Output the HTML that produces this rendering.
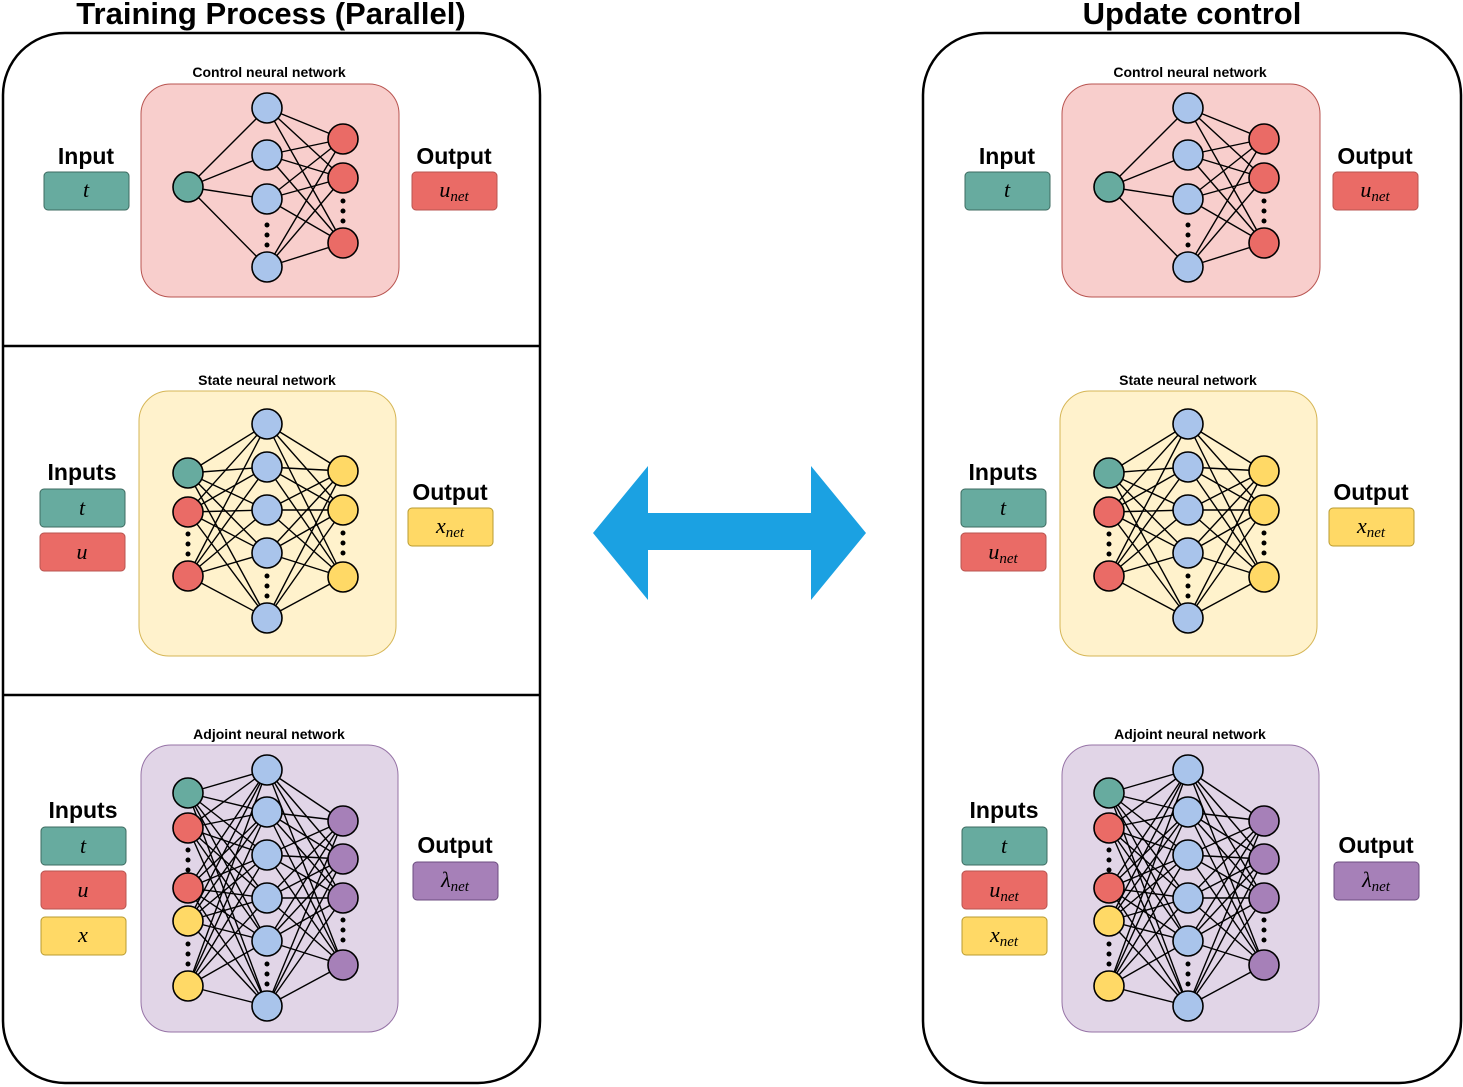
<!DOCTYPE html>
<html><head><meta charset="utf-8"><style>
html,body{margin:0;padding:0;background:#fff;}
svg{display:block;}
.t{font-family:"Liberation Sans",sans-serif;font-weight:bold;fill:#000;text-anchor:middle;}
.m{font-family:"Liberation Serif",serif;font-style:italic;fill:#000;text-anchor:middle;}
</style></head><body>
<svg id="s" width="1463" height="1087" viewBox="0 0 1463 1087" xmlns="http://www.w3.org/2000/svg">
<rect x="3" y="33" width="537" height="1050" rx="62" fill="none" stroke="#000" stroke-width="2.5"/>
<line x1="3" y1="346" x2="540" y2="346" stroke="#000" stroke-width="2.5"/>
<line x1="3" y1="695" x2="540" y2="695" stroke="#000" stroke-width="2.5"/>
<rect x="923" y="33" width="538" height="1050" rx="62" fill="none" stroke="#000" stroke-width="2.5"/>
<text class="t" x="271" y="24" font-size="31">Training Process (Parallel)</text>
<text class="t" x="1192" y="24" font-size="31">Update control</text>
<polygon points="593,533 648,466 648,513 811,513 811,466 866,533 811,600 811,550 648,550 648,600" fill="#1ba1e2"/>
<g id="g"></g>
<g id="labels"></g>
</svg>
<script>
const NS="http://www.w3.org/2000/svg";
const G=document.getElementById('g');
function el(n,a,p){const e=document.createElementNS(NS,n);for(const k in a)e.setAttribute(k,a[k]);(p||G).appendChild(e);return e;}
const C={g:"#67ab9f",r:"#ea6b66",y:"#ffd966",b:"#a9c4eb",p:"#a680b8"};
function net(dx,bg,layers){
  el('rect',{x:bg[0]+dx,y:bg[1],width:bg[2]-bg[0],height:bg[3]-bg[1],rx:30,fill:bg[4],stroke:bg[5],'stroke-width':1});
  for(let i=0;i<layers.length-1;i++){
    for(const a of layers[i].n)for(const b of layers[i+1].n)
      el('line',{x1:layers[i].x+dx,y1:a[0],x2:layers[i+1].x+dx,y2:b[0],stroke:"#000",'stroke-width':1.4});
  }
  for(const L of layers){
    for(const n of L.n) el('circle',{cx:L.x+dx,cy:n[0],r:15,fill:C[n[1]],stroke:"#000",'stroke-width':1.6});
    for(const d of (L.d||[])) for(let k=0;k<3;k++) el('circle',{cx:L.x+dx,cy:d+k*10,r:2.5,fill:"#000"});
  }
}
function box(x,y,w,fill,stroke){el('rect',{x:x,y:y,width:w,height:38,rx:4,fill:fill,stroke:stroke,'stroke-width':1});}
for(const dx of [0,921]){
  net(dx,[141,84,399,297,"#f8cecc","#b85450"],[
    {x:188,n:[[187,'g']]},
    {x:267,n:[[108,'b'],[155,'b'],[199,'b'],[267,'b']],d:[225]},
    {x:343,n:[[139,'r'],[178,'r'],[243,'r']],d:[201]}]);
  net(dx,[139,391,396,656,"#fff2cc","#d6b656"],[
    {x:188,n:[[473,'g'],[512,'r'],[576,'r']],d:[534]},
    {x:267,n:[[424,'b'],[467,'b'],[510,'b'],[553,'b'],[618,'b']],d:[576]},
    {x:343,n:[[471,'y'],[510,'y'],[577,'y']],d:[533]}]);
  net(dx,[141,745,398,1032,"#e1d5e7","#9673a6"],[
    {x:188,n:[[793,'g'],[828,'r'],[888,'r'],[921,'y'],[986,'y']],d:[850,944]},
    {x:267,n:[[770,'b'],[812,'b'],[855,'b'],[898,'b'],[941,'b'],[1006,'b']],d:[964]},
    {x:343,n:[[821,'p'],[859,'p'],[898,'p'],[965,'p']],d:[920]}]);
  box(44+dx,172,85,C.g,"#3d6b60"); box(412+dx,172,85,C.r,"#b85450");
  box(40+dx,489,85,C.g,"#3d6b60"); box(40+dx,533,85,C.r,"#b85450"); box(408+dx,508,85,C.y,"#b89b30");
  box(41+dx,827,85,C.g,"#3d6b60"); box(41+dx,871,85,C.r,"#b85450"); box(41+dx,917,85,C.y,"#b89b30"); box(413+dx,862,85,C.p,"#6c4d80");
}
</script>
<script>
const Lg=document.getElementById('labels');
const R=(dx,u,x)=>`
<text class="t" x="${269+dx}" y="77" font-size="14">Control neural network</text>
<text class="t" x="${267+dx}" y="385" font-size="14">State neural network</text>
<text class="t" x="${269+dx}" y="739" font-size="14">Adjoint neural network</text>
<text class="t" x="${86+dx}" y="164" font-size="23">Input</text>
<text class="t" x="${454+dx}" y="164" font-size="23">Output</text>
<text class="t" x="${82+dx}" y="480" font-size="23">Inputs</text>
<text class="t" x="${450+dx}" y="500" font-size="23">Output</text>
<text class="t" x="${83+dx}" y="818" font-size="23">Inputs</text>
<text class="t" x="${455+dx}" y="853" font-size="23">Output</text>
<text class="m" x="${86+dx}" y="197" font-size="22">t</text>
<text class="m" x="${454+dx}" y="197" font-size="22">u<tspan font-size="15" dy="4">net</tspan></text>
<text class="m" x="${82+dx}" y="515" font-size="22">t</text>
<text class="m" x="${82+dx}" y="559" font-size="22">${u}</text>
<text class="m" x="${450+dx}" y="533" font-size="22">x<tspan font-size="15" dy="4">net</tspan></text>
<text class="m" x="${83+dx}" y="853" font-size="22">t</text>
<text class="m" x="${83+dx}" y="897" font-size="22">${u}</text>
<text class="m" x="${83+dx}" y="942" font-size="22">${x}</text>
<text class="m" x="${455+dx}" y="887" font-size="22">λ<tspan font-size="15" dy="4">net</tspan></text>`;
Lg.innerHTML=R(0,'u','x')+R(921,'u<tspan font-size="15" dy="4">net</tspan>','x<tspan font-size="15" dy="4">net</tspan>');
</script>
</body></html>
